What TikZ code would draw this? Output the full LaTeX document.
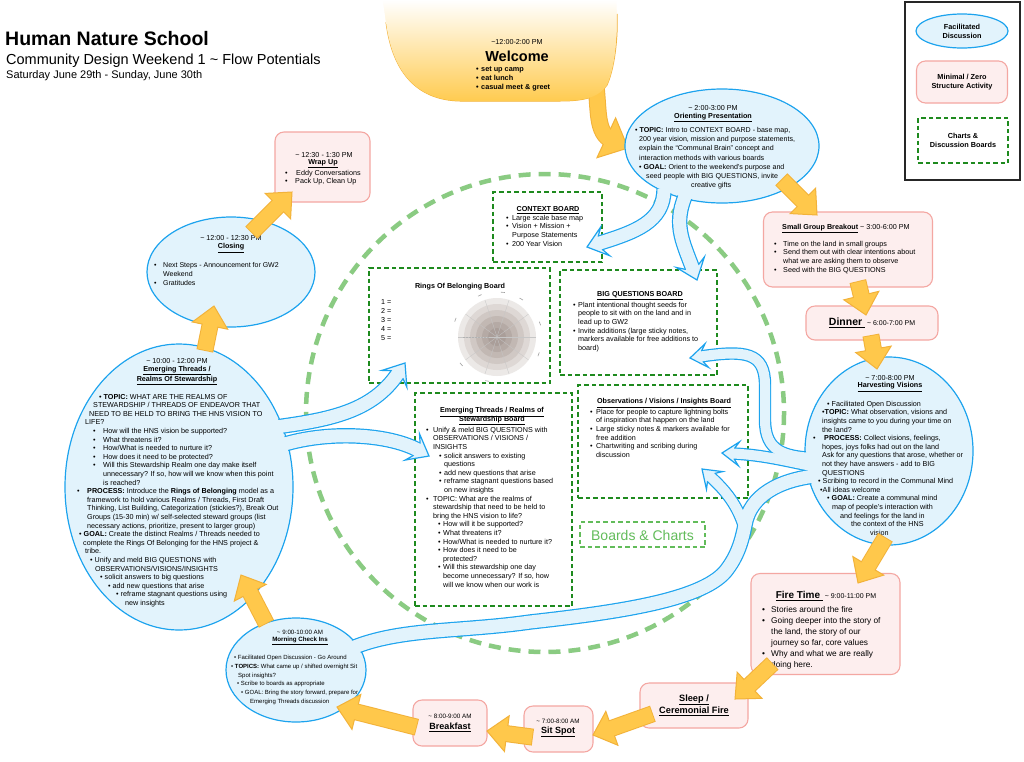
\documentclass[tikz,border=0pt]{standalone}
\usepackage{fontspec}
\setmainfont{Liberation Sans}
\usetikzlibrary{shapes.geometric,calc}
\definecolor{bline}{HTML}{1CA3EE}
\definecolor{bfill}{HTML}{E2F3FC}
\definecolor{pline}{HTML}{F4A7A2}
\definecolor{pfill}{HTML}{FDEEEE}
\definecolor{yfill}{HTML}{FFC84B}
\definecolor{yline}{HTML}{F2B23A}
\definecolor{welc}{HTML}{FFCB50}
\definecolor{bgreen}{HTML}{1E8A1E}
\definecolor{cgreen}{HTML}{8ACB82}
\definecolor{lgreen}{HTML}{62BC5A}
\tikzset{
 disc/.style={ellipse, draw=bline, fill=bfill, line width=1.2pt, inner sep=0pt},
 discfill/.style={ellipse, fill=bfill, inner sep=0pt},
 activity/.style={rectangle, rounded corners=9pt, draw=pline, fill=pfill, line width=1.1pt, inner sep=0pt},
 board/.style={rectangle, draw=bgreen, line width=1.6pt, dash pattern=on 4.5pt off 3pt, fill=white, inner sep=0pt},
 sm/.style={font=\fontsize{7.2}{8.6}\selectfont, inner sep=0pt},
 lbl/.style={sm, align=left, anchor=north west},
 hdr/.style={sm, align=center},
 bhdr/.style={font=\fontsize{7.2}{8.8}\selectfont\bfseries, inner sep=0pt, align=center},
 bandouter/.style={draw=bline, line width=15.4pt},
 bandinner/.style={draw=bfill, line width=13pt},
 bandouterS/.style={draw=bline, line width=12.4pt},
 bandinnerS/.style={draw=bfill, line width=10pt},
 bhead/.style={fill=bfill, draw=bline, line width=1.2pt, line join=miter},
 yout/.style={draw=yline, line width=17pt},
 yin/.style={draw=yfill, line width=15pt},
 yhead/.style={fill=yfill, draw=yline, line width=1pt, line join=miter},
}
% yellow block arrow: start, control 1, control 2, tip, head length, head half width
\newcommand\yarrowG[6]{%
  \coordinate (yb) at ($(#4)!#5!(#3)$);
  \coordinate (yx) at ($(#4)!#5-6pt!(#3)$);
  \draw[yout,shorten <=-0.9pt] (#1) .. controls (#2) and (#3) .. (yx);
  \draw[yhead] (#4) -- ($(yb)!#6!90:(#4)$) -- ($(yb)!#6!-90:(#4)$) -- cycle;
  \draw[yin] (#1) .. controls (#2) and (#3) .. (yx);
}
\newcommand\yarrow[4]{\yarrowG{#1}{#2}{#3}{#4}{20pt}{18pt}}
\newcommand\ystraight[2]{\coordinate (ym) at ($(#1)!0.3!(#2)$);\yarrow{#1}{ym}{ym}{#2}}
\newcommand\bout[4]{\draw[bandouter] (#1) .. controls (#2) and (#3) .. ($(#4)!12pt!(#3)$);}
\newcommand\bin[4]{\draw[bandinner] (#1) .. controls (#2) and (#3) .. ($(#4)!12pt!(#3)$);}
% notched head: tip, direction point, length, half width, notch depth, notch half width
\newcommand\bhd[6]{%
 \coordinate (bb) at ($(#1)!#3!(#2)$);
 \coordinate (bn) at ($(#1)!#5!(#2)$);
 \draw[bhead] (#1) -- ($(bb)!#4!90:(#1)$) -- ($(bn)!#6!90:(#1)$) -- ($(bn)!#6!-90:(#1)$) -- ($(bb)!#4!-90:(#1)$) -- cycle;}
\begin{document}
\begin{tikzpicture}[x=1pt,y=-1pt]
\useasboundingbox (0,0) rectangle (1024,761);
\fill[white] (0,0) rectangle (1024,761);
% big dashed circle
\draw[cgreen, line width=4.5pt, dash pattern=on 12pt off 8pt] (545,413) circle (239);

% title
\node[anchor=base west, inner sep=0pt, font=\fontsize{19.5}{20}\selectfont\bfseries] (t1) at (5,45) {Human Nature School};
\node[anchor=base west, inner sep=0pt, font=\fontsize{14.5}{15}\selectfont] (t2) at (6,64) {Community Design Weekend 1 \textasciitilde{} Flow Potentials};
\node[anchor=base west, inner sep=0pt, font=\fontsize{11}{12}\selectfont] (t3) at (6,78) {Saturday June 29th - Sunday, June 30th};

% legend
\node[draw=black!85, line width=1.2pt, minimum width=115pt, minimum height=178pt, inner sep=0pt] (legend) at (962.5,91) {};
\node[disc, minimum width=92pt, minimum height=34pt] (legD) at (962,31) {};
\node[bhdr, font=\fontsize{7.3}{8.8}\selectfont\bfseries] (legDt) at (962,31) {Facilitated\\Discussion};
\node[activity, minimum width=91pt, minimum height=42pt] (legA) at (962,82) {};
\node[bhdr, font=\fontsize{7.3}{8.8}\selectfont\bfseries] (legAt) at (962,82) {Minimal / Zero\\Structure Activity};
\node[board, minimum width=90pt, minimum height=45pt] (legB) at (963,140.5) {};
\node[bhdr, font=\fontsize{7.3}{8.8}\selectfont\bfseries] (legBt) at (963,140.5) {Charts \&\\Discussion Boards};

% welcome
\shade[top color=white, bottom color=welc] (383,0) -- (386,22) .. controls (392,70) and (415,100) .. (460,101) -- (560,101) .. controls (590,101) and (600,95) .. (607,85) .. controls (616,65) and (618,30) .. (616,0) -- cycle;
\draw[yline, line width=1pt] (386,22) .. controls (392,70) and (415,100) .. (460,101) -- (560,101) .. controls (590,101) and (600,95) .. (607,85) .. controls (616,65) and (618,30) .. (617,14);
\coordinate (wS) at (596,86);
\coordinate (wC1) at (599,110);
\coordinate (wC2) at (596,133);
\coordinate (wT) at (628,148);
\yarrowG{wS}{wC1}{wC2}{wT}{24pt}{22pt}
\shade[top color=white, bottom color=welc] (383,0) -- (386,22) .. controls (392,70) and (415,100) .. (460,101) -- (560,101) .. controls (590,101) and (600,95) .. (607,85) .. controls (616,65) and (618,30) .. (616,0) -- cycle;
\node[hdr] (welT) at (517,42) {\textasciitilde12:00-2:00 PM};
\node[inner sep=0pt, font=\fontsize{14.5}{15}\selectfont\bfseries] (welH) at (517,56) {Welcome};
\node[lbl, font=\fontsize{7.3}{9}\selectfont\bfseries] (welB) at (476,66.5) {\makebox[5pt][l]{•}set up camp\\\makebox[5pt][l]{•}eat lunch\\\makebox[5pt][l]{•}casual meet \& greet};

% boards
\node[board, minimum width=109pt, minimum height=70pt] (context) at (547.5,227) {};
\node[bhdr] (contextT) at (548,210) {\underline{CONTEXT BOARD}};
\node[lbl] (contextB) at (506,214.8) {\makebox[6pt][l]{•}Large scale base map\\\makebox[6pt][l]{•}Vision + Mission +\\\hspace*{6pt}Purpose Statements\\\makebox[6pt][l]{•}200 Year Vision};

\node[board, minimum width=181pt, minimum height=115pt] (rings) at (459.5,325.5) {};
\node[bhdr] (ringsT) at (460,287) {Rings Of Belonging Board};
\node[lbl, font=\fontsize{7.2}{9}\selectfont] (ringsB) at (381,299.5) {1 =\\2 =\\3 =\\4 =\\5 =};
\foreach \r/\c in {39/ECE9E7,33/DED8D5,27/D0C8C4,21/C2B8B3,15/B5AAA5,9/AA9E99}{
  \definecolor{tmpc}{HTML}{\c}
  \fill[tmpc] (497,337) circle (\r);
}
\foreach \a in {0,36,...,324} \draw[gray!45, line width=0.3pt] (497,337) -- ++(\a:39);
\foreach \a in {100,140,200,245,275,300,340,20} \draw[gray!75, line width=0.6pt] ($(497,337)+(\a:45)$) -- ++({\a+90}:4);
\draw[gray!60, line width=0.5pt, dash pattern=on 1.5pt off 1.5pt] (463,337) -- (490,337);

\node[board, minimum width=157pt, minimum height=105pt] (bigq) at (638.5,322.5) {};
\node[bhdr] (bigqT) at (640,296) {\underline{BIG QUESTIONS BOARD}};
\node[lbl] (bigqB) at (573,301.8) {\makebox[5pt][l]{•}Plant intentional thought seeds for\\\hspace*{5pt}people to sit with on the land and in\\\hspace*{5pt}lead up to GW2\\\makebox[5pt][l]{•}Invite additions (large sticky notes,\\\hspace*{5pt}markers available for free additions to\\\hspace*{5pt}board)};

\node[board, minimum width=170pt, minimum height=113pt] (obs) at (663,441.5) {};
\node[bhdr] (obsT) at (664,403) {\underline{Observations / Visions / Insights Board}};
\node[lbl] (obsB) at (590,408.8) {\makebox[6pt][l]{•}Place for people to capture lightning bolts\\\hspace*{6pt}of inspiration that happen on the land\\\makebox[6pt][l]{•}Large sticky notes \& markers available for\\\hspace*{6pt}free addition\\\makebox[6pt][l]{•}Chartwriting and scribing during\\\hspace*{6pt}discussion};

\node[board, minimum width=157pt, minimum height=213pt] (emb) at (493.5,499.5) {};
\node[bhdr] (embT) at (492,416.5) {\underline{Emerging Threads / Realms of}\\\underline{Stewardship Board}};
\node[lbl] (embB) at (426,426.8) {\makebox[7pt][l]{•}Unify \& meld BIG QUESTIONS with\\
\hspace*{7pt}OBSERVATIONS / VISIONS /\\
\hspace*{7pt}INSIGHTS\\
\hspace*{13pt}\makebox[5pt][l]{•}solicit answers to existing\\
\hspace*{18pt}questions\\
\hspace*{13pt}\makebox[5pt][l]{•}add new questions that arise\\
\hspace*{13pt}\makebox[5pt][l]{•}reframe stagnant questions based\\
\hspace*{18pt}on new insights\\
\makebox[7pt][l]{•}TOPIC: What are the realms of\\
\hspace*{7pt}stewardship that need to be held to\\
\hspace*{7pt}bring the HNS vision to life?\\
\hspace*{12pt}\makebox[5pt][l]{•}How will it be supported?\\
\hspace*{12pt}\makebox[5pt][l]{•}What threatens it?\\
\hspace*{12pt}\makebox[5pt][l]{•}How/What is needed to nurture it?\\
\hspace*{12pt}\makebox[5pt][l]{•}How does it need to be\\
\hspace*{17pt}protected?\\
\hspace*{12pt}\makebox[5pt][l]{•}Will this stewardship one day\\
\hspace*{17pt}become unnecessary? If so, how\\
\hspace*{17pt}will we know when our work is};

\node[rectangle, draw=lgreen, line width=1.6pt, dash pattern=on 4.5pt off 3pt, fill=white, minimum width=125pt, minimum height=25pt, inner sep=0pt] (bc) at (642.5,534.5) {};
\node[inner sep=0pt, text=lgreen, font=\fontsize{14}{15}\selectfont] (bcT) at (642.5,535) {Boards \& Charts};

% activities
\node[activity, minimum width=95pt, minimum height=70pt] (wrap) at (322.5,167) {};
\node[hdr] (wrapT) at (324,155) {\textasciitilde{} 12:30 - 1:30 PM};
\node[hdr] (wrapH) at (323,164) {\textbf{\underline{Wrap Up}}};
\node[lbl] (wrapB) at (285,169.6) {\makebox[10pt][l]{•}\hspace{1pt}Eddy Conversations\\\makebox[10pt][l]{•}Pack Up, Clean Up};

\node[activity, minimum width=169pt, minimum height=75pt] (small) at (848,249.5) {};
\node[lbl] (smallH) at (782,223.8) {\textbf{\underline{Small Group Breakout}} \textasciitilde{} 3:00-6:00 PM};
\node[lbl] (smallB) at (774,240.8) {\makebox[9pt][l]{•}Time on the land in small groups\\\makebox[9pt][l]{•}Send them out with clear intentions about\\\hspace*{9pt}what we are asking them to observe\\\makebox[9pt][l]{•}Seed with the BIG QUESTIONS};

\node[activity, minimum width=132pt, minimum height=34pt] (dinner) at (872,323) {};
\node[inner sep=0pt] (dinnerT) at (872,323) {\fontsize{10.5}{11}\selectfont\textbf{\underline{Dinner }}\fontsize{7}{8}\selectfont{} \textasciitilde{} 6:00-7:00 PM};

\node[activity, minimum width=149pt, minimum height=101pt] (fire) at (825.5,624) {};
\node[inner sep=0pt] (fireT) at (826,596) {\fontsize{10}{11}\selectfont\textbf{\underline{Fire Time }}\fontsize{7}{8}\selectfont{} \textasciitilde{} 9:00-11:00 PM};
\node[lbl, font=\fontsize{8.3}{11}\selectfont] (fireB) at (762,606.5) {\makebox[9pt][l]{•}Stories around the fire\\\makebox[9pt][l]{•}Going deeper into the story of\\\hspace*{9pt}the land, the story of our\\\hspace*{9pt}journey so far, core values\\\makebox[9pt][l]{•}Why and what we are really\\\hspace*{9pt}doing here.};

\node[activity, minimum width=108pt, minimum height=45pt] (sleep) at (694,705.5) {};
\node[bhdr, font=\fontsize{9.2}{12}\selectfont\bfseries] (sleepT) at (694,705) {\underline{Sleep /}\\\underline{Ceremonial Fire}};

\node[activity, minimum width=69pt, minimum height=46pt] (sit) at (558.5,729) {};
\node[hdr, font=\fontsize{6.3}{7}\selectfont] (sitT) at (558,721) {\textasciitilde{} 7:00-8:00 AM};
\node[inner sep=0pt, font=\fontsize{9}{10}\selectfont\bfseries] (sitH) at (558,732) {\underline{Sit Spot}};

\node[activity, minimum width=74pt, minimum height=46pt] (breakfast) at (450,723) {};
\node[hdr, font=\fontsize{6.3}{7}\selectfont] (bfT) at (450,716) {\textasciitilde{} 8:00-9:00 AM};
\node[inner sep=0pt, font=\fontsize{9}{10}\selectfont\bfseries] (bfH) at (450,727) {\underline{Breakfast}};

% discussion ellipses
\node[disc, minimum width=194pt, minimum height=114pt] (orient) at (722,146) {};
\node[disc, minimum width=168pt, minimum height=188pt] (harvest) at (889,451) {};
\node[disc, minimum width=228pt, minimum height=286pt] (emerg) at (179,487) {};
\node[disc, minimum width=168pt, minimum height=110pt] (closing) at (231,272) {};
\node[disc, minimum width=140pt, minimum height=104pt] (morning) at (296,670) {};

% blue tails
\coordinate (oLs) at (664,189); \coordinate (oL1) at (664,222); \coordinate (oL2) at (635,232); \coordinate (oLt) at (587,247);
\coordinate (oRs) at (688,190); \coordinate (oR1) at (672,222); \coordinate (oR2) at (682,240); \coordinate (oRt) at (697,280);
\coordinate (eUs) at (268,428); \coordinate (eU1) at (330,420); \coordinate (eU2) at (372,412); \coordinate (eUt) at (405,363);
\coordinate (eRs) at (268,450); \coordinate (eR1) at (315,430); \coordinate (eR2) at (385,432); \coordinate (eRt) at (429,456);
\coordinate (hUc) at (745,350); \coordinate (hUt) at (690,358);
\coordinate (hO2) at (765,455); \coordinate (hOt) at (722,453);
\coordinate (mS) at (352,648); \coordinate (mJ) at (745,525); \coordinate (mC) at (725,490); \coordinate (mT) at (702,469);
\coordinate (hE) at (815,476);
% outer strokes
\bout{oLs}{oL1}{oL2}{oLt} \bout{oRs}{oR1}{oR2}{oRt}
\bout{eUs}{eU1}{eU2}{eUt} \bout{eRs}{eR1}{eR2}{eRt}
\draw[bandouterS] (812,458) .. controls (785,456) and (765,452) .. (765,420) -- (765,385) .. controls (765,352) and (hUc) .. ($(hUt)!11pt!(hUc)$);
\draw[bandouterS] (812,466) .. controls (790,462) and (hO2) .. ($(hOt)!11pt!(hO2)$);
\draw[bandouter] (mS) .. controls (400,628) and (460,632) .. (530,622) .. controls (620,612) and (700,600) .. (725,572) .. controls (738,556) and (742,540) .. (mJ) .. controls (750,495) and (780,480) .. (hE);
\draw[bandouterS] (745,530) .. controls (738,505) and (mC) .. ($(mT)!11pt!(mC)$);
% heads
\bhd{oLt}{oL2}{19pt}{15pt}{14pt}{7pt}
\bhd{oRt}{oR2}{19pt}{15pt}{14pt}{7pt}
\bhd{eUt}{eU2}{19pt}{15pt}{14pt}{7pt}
\bhd{eRt}{eR2}{19pt}{15pt}{14pt}{7pt}
\bhd{hUt}{hUc}{17pt}{12pt}{12.5pt}{5.5pt}
\bhd{hOt}{hO2}{17pt}{12pt}{12.5pt}{5.5pt}
\bhd{mT}{mC}{17pt}{12pt}{12.5pt}{5.5pt}
% inner strokes
\bin{oLs}{oL1}{oL2}{oLt} \bin{oRs}{oR1}{oR2}{oRt}
\bin{eUs}{eU1}{eU2}{eUt} \bin{eRs}{eR1}{eR2}{eRt}
\draw[bandinnerS] (812,458) .. controls (785,456) and (765,452) .. (765,420) -- (765,385) .. controls (765,352) and (hUc) .. ($(hUt)!11pt!(hUc)$);
\draw[bandinnerS] (812,466) .. controls (790,462) and (hO2) .. ($(hOt)!11pt!(hO2)$);
\draw[bandinner] (mS) .. controls (400,628) and (460,632) .. (530,622) .. controls (620,612) and (700,600) .. (725,572) .. controls (738,556) and (742,540) .. (mJ) .. controls (750,495) and (780,480) .. (hE);
\draw[bandinnerS] (745,530) .. controls (738,505) and (mC) .. ($(mT)!11pt!(mC)$);

\node[discfill, minimum width=191.6pt, minimum height=111.6pt] (orientF) at (722,146) {};
\node[discfill, minimum width=165.6pt, minimum height=185.6pt] (harvestF) at (889,451) {};
\node[discfill, minimum width=225.6pt, minimum height=283.6pt] (emergF) at (179,487) {};
\node[discfill, minimum width=137.6pt, minimum height=101.6pt] (morningF) at (296,670) {};

% ellipse texts
\node[hdr] (orientT) at (713,108) {\textasciitilde{} 2:00-3:00 PM};
\node[hdr] (orientH) at (713,117.5) {\textbf{\underline{Orienting Presentation}}};
\node[lbl, font=\fontsize{7.1}{9.3}\selectfont] (orientB) at (634,126.8) {\hspace*{1pt}• \textbf{TOPIC:} Intro to CONTEXT BOARD - base map,\\
\hspace*{5pt}200 year vision, mission and purpose statements,\\
\hspace*{5pt}explain the “Communal Brain” concept and\\
\hspace*{5pt}interaction methods with various boards\\
\hspace*{5pt}• \textbf{GOAL:} Orient to the weekend’s purpose and\\
\hspace*{12pt}seed people with BIG QUESTIONS, invite\\
\hspace*{57pt}creative gifts};

\node[hdr] (harvT) at (890,378) {\textasciitilde{} 7:00-8:00 PM};
\node[hdr] (harvH) at (890,387) {\textbf{\underline{Harvesting Visions}}};
\node[lbl] (harvB) at (812,400.8) {\hspace*{15pt}• Facilitated Open Discussion\\
\hspace*{10pt}•\textbf{TOPIC:} What observation, visions and\\
\hspace*{10pt}insights came to you during your time on\\
\hspace*{10pt}the land?\\
\hspace*{1pt}\makebox[11pt][l]{•}\textbf{PROCESS:} Collect visions, feelings,\\
\hspace*{10pt}hopes, joys folks had out on the land\\
\hspace*{10pt}Ask for any questions that arose, whether or\\
\hspace*{10pt}not they have answers - add to BIG\\
\hspace*{10pt}QUESTIONS\\
\hspace*{6pt}• Scribing to record in the Communal Mind\\
\hspace*{8pt}•All ideas welcome\\
\hspace*{15pt}• \textbf{GOAL:} Create a communal mind\\
\hspace*{20pt}map of people’s interaction with\\
\hspace*{28pt}and feelings for the land in\\
\hspace*{39pt}the context of the HNS\\
\hspace*{58pt}vision};

\node[hdr] (emT) at (177,361) {\textasciitilde{} 10:00 - 12:00 PM};
\node[hdr] (emH) at (177,375.5) {\textbf{\underline{Emerging Threads /}}\\\textbf{\underline{Realms Of Stewardship}}};
\node[lbl] (emB) at (76,393.8) {\hspace*{23pt}• \textbf{TOPIC:} WHAT ARE THE REALMS OF\\
\hspace*{17pt}STEWARDSHIP / THREADS OF ENDEAVOR THAT\\
\hspace*{13pt}NEED TO BE HELD TO BRING THE HNS VISION TO\\
\hspace*{9pt}LIFE?\\
\hspace*{17pt}\makebox[10pt][l]{•}How will the HNS vision be supported?\\
\hspace*{17pt}\makebox[10pt][l]{•}What threatens it?\\
\hspace*{17pt}\makebox[10pt][l]{•}How/What is needed to nurture it?\\
\hspace*{17pt}\makebox[10pt][l]{•}How does it need to be protected?\\
\hspace*{17pt}\makebox[10pt][l]{•}Will this Stewardship Realm one day make itself\\
\hspace*{27pt}unnecessary? If so, how will we know when this point\\
\hspace*{27pt}is reached?\\
\hspace*{1pt}\makebox[10pt][l]{•}\textbf{PROCESS:} Introduce the \textbf{Rings of Belonging} model as a\\
\hspace*{11pt}framework to hold various Realms / Threads, First Draft\\
\hspace*{11pt}Thinking, List Building, Categorization (stickies?), Break Out\\
\hspace*{11pt}Groups (15-30 min) w/ self-selected steward groups (list\\
\hspace*{11pt}necessary actions, prioritize, present to larger group)\\
\hspace*{3pt}• \textbf{GOAL:} Create the distinct Realms / Threads needed to\\
\hspace*{7pt}complete the Rings Of Belonging for the HNS project \&\\
\hspace*{9pt}tribe.\\
\hspace*{14pt}• Unify and meld BIG QUESTIONS with\\
\hspace*{19pt}OBSERVATIONS/VISIONS/INSIGHTS\\
\hspace*{24pt}• solicit answers to big questions\\
\hspace*{32pt}• add new questions that arise\\
\hspace*{40pt}• reframe stagnant questions using\\
\hspace*{49pt}new insights};

\node[hdr] (closeT) at (231,238) {\textasciitilde{} 12:00 - 12:30 PM};
\node[hdr] (closeH) at (231,248) {\textbf{\underline{Closing}}};
\node[lbl, font=\fontsize{7}{9}\selectfont] (closeB) at (154,261.8) {\makebox[9pt][l]{•}Next Steps - Announcement for GW2\\\hspace*{9pt}Weekend\\\makebox[9pt][l]{•}Gratitudes};

\node[hdr, font=\fontsize{6.2}{7}\selectfont] (mornT) at (300,632) {\textasciitilde{} 9:00-10:00 AM};
\node[hdr, font=\fontsize{6.2}{7}\selectfont] (mornH) at (300,641) {\textbf{\underline{Morning Check Ins}}};
\node[lbl, font=\fontsize{6}{8.7}\selectfont] (mornB) at (231,655.3) {\hspace*{3pt}• Facilitated Open Discussion - Go Around\\
• \textbf{TOPICS:} What came up / shifted overnight Sit\\
\hspace*{7pt}Spot insights?\\
\hspace*{6pt}• Scribe to boards as appropriate\\
\hspace*{10pt}• GOAL: Bring the story forward, prepare for\\
\hspace*{19pt}Emerging Threads discussion};

% yellow flow arrows
\coordinate (y1s) at (782,180); \coordinate (y1t) at (817,215);
\coordinate (y2s) at (858,282); \coordinate (y2t) at (866,315);
\coordinate (y3s) at (871,336); \coordinate (y3t) at (877,369);
\coordinate (y4s) at (885,538); \coordinate (y4t) at (858,583);
\coordinate (y5s) at (772,664); \coordinate (y5t) at (735,699);
\coordinate (y6s) at (652,714); \coordinate (y6t) at (593,735);
\coordinate (y7s) at (532,737); \coordinate (y7t) at (487,731);
\coordinate (y8s) at (416,727); \coordinate (y8t) at (337,707);
\coordinate (y9s) at (266,623); \coordinate (y9t) at (241,575);
\coordinate (y10s) at (205,350); \coordinate (y10t) at (214,306);
\coordinate (y11s) at (252,232); \coordinate (y11t) at (292,192);
\ystraight{y1s}{y1t}
\ystraight{y2s}{y2t}
\ystraight{y3s}{y3t}
\ystraight{y4s}{y4t}
\ystraight{y5s}{y5t}
\ystraight{y6s}{y6t}
\ystraight{y7s}{y7t}
\ystraight{y8s}{y8t}
\ystraight{y9s}{y9t}
\ystraight{y10s}{y10t}
\ystraight{y11s}{y11t}
\end{tikzpicture}
\end{document}
